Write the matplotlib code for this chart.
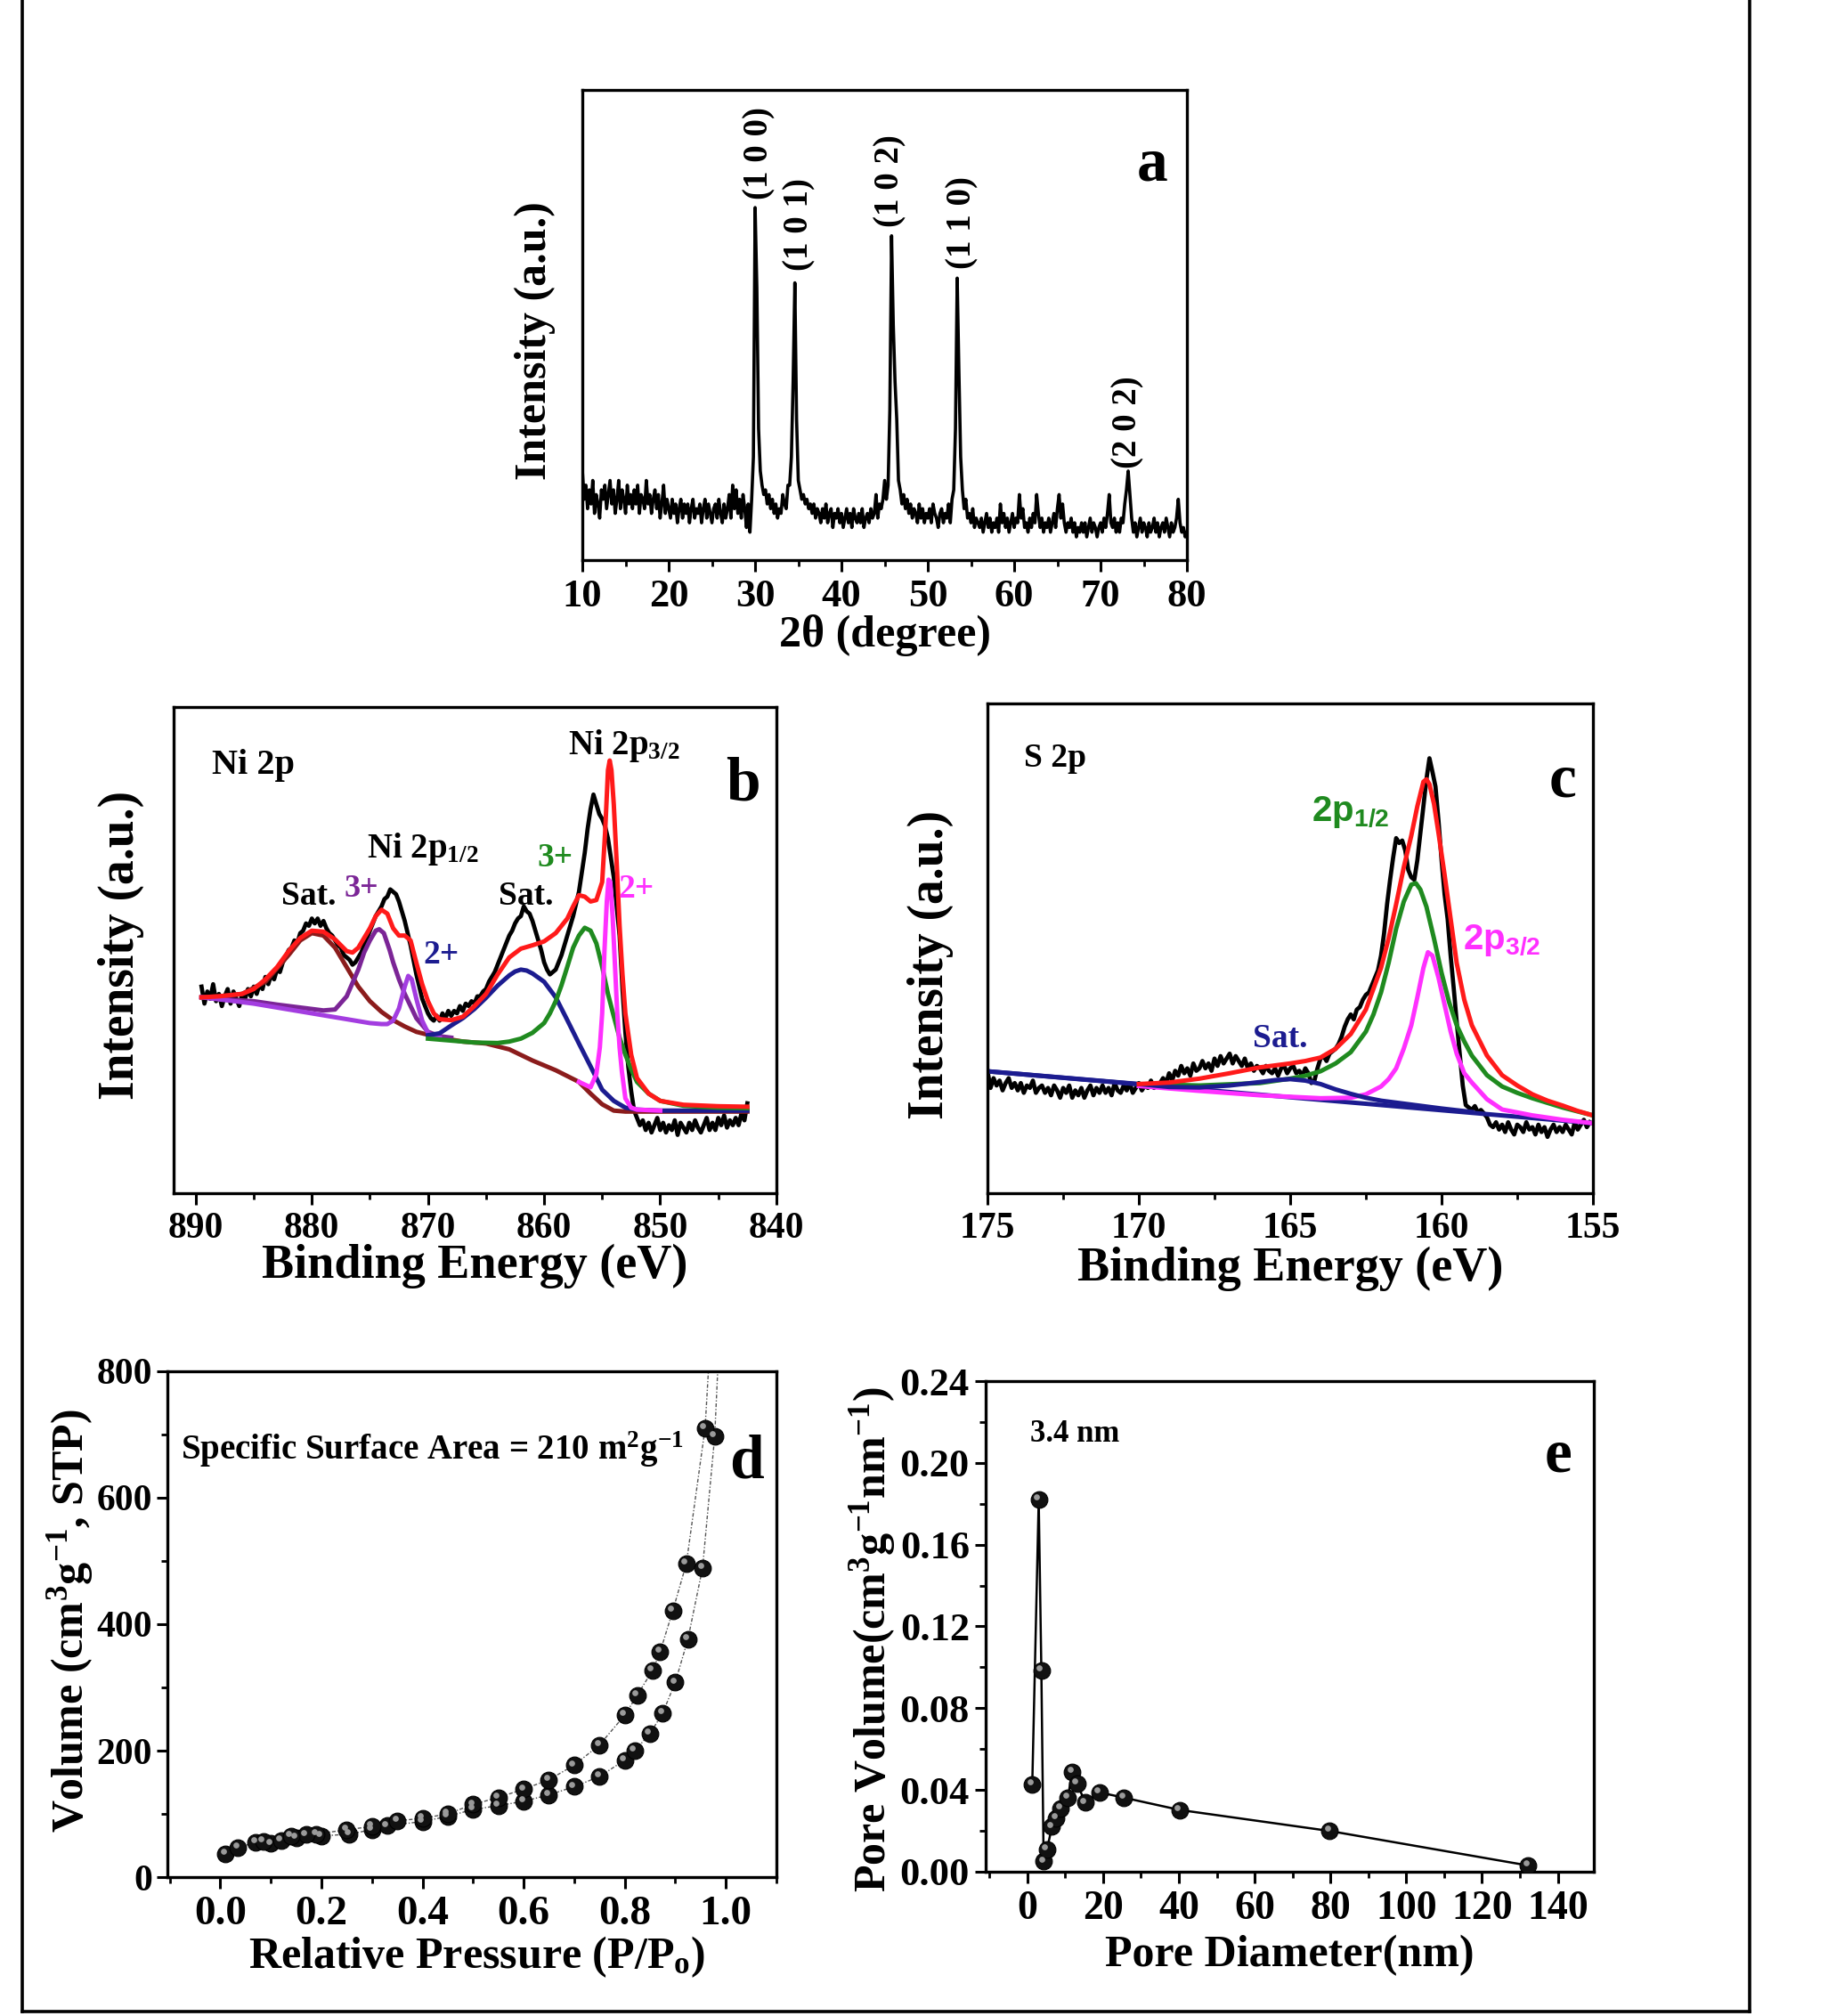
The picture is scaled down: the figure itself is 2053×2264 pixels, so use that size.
import numpy as np
import matplotlib.pyplot as plt
from matplotlib.lines import Line2D
from matplotlib.ticker import MultipleLocator, NullLocator
from matplotlib.transforms import offset_copy

plt.rcParams['font.family'] = ['Liberation Serif', 'DejaVu Serif']
plt.rcParams['font.weight'] = 'bold'
plt.rcParams['mathtext.fontset'] = 'custom'
plt.rcParams['mathtext.rm'] = 'Liberation Serif:bold'
plt.rcParams['mathtext.it'] = 'Liberation Serif:bold'
plt.rcParams['mathtext.bf'] = 'Liberation Serif:bold'
plt.rcParams['mathtext.sf'] = 'Liberation Sans:bold'
plt.rcParams['axes.linewidth'] = 2.4

# ---------------- (a) XRD ----------------
xrd_2theta = 10 + 0.2 * np.arange(351)
xrd_intensity = [
    19, 13, 16, 11, 15, 12, 17, 10, 14, 12,
    9, 15, 13, 16, 11, 14, 17, 12, 15, 10,
    13, 17, 11, 15, 13, 10, 16, 12, 14, 11,
    15, 12, 16, 10, 14, 13, 11, 17, 12, 14,
    10, 13, 15, 11, 14, 9, 12, 16, 10, 13,
    11, 9, 13, 10, 12, 8, 11, 13, 9, 12,
    10, 12, 8, 11, 13, 9, 11, 10, 12, 8,
    11, 13, 9, 12, 10, 8, 11, 12, 9, 13,
    10, 8, 12, 9, 11, 14, 9, 16, 11, 15,
    10, 13, 9, 14, 11, 7, 12, 6, 13, 22,
    75, 58, 28, 19, 16, 14, 15, 12, 14, 11,
    13, 10, 12, 9, 11, 10, 14, 12, 11, 16,
    16, 22, 38, 59, 30, 17, 15, 13, 14, 12,
    13, 11, 12, 10, 12, 9, 11, 10, 8, 11,
    9, 12, 8, 10, 11, 7, 10, 9, 11, 8,
    10, 7, 9, 11, 8, 10, 7, 11, 9, 8,
    10, 8, 11, 7, 9, 10, 8, 11, 9, 10,
    14, 9, 12, 11, 13, 17, 13, 16, 32, 69,
    50, 38, 30, 17, 15, 12, 14, 11, 13, 10,
    12, 9, 11, 10, 8, 12, 9, 11, 8, 10,
    9, 11, 8, 12, 10, 9, 7, 10, 11, 8,
    10, 9, 12, 8, 13, 15, 28, 60, 40, 22,
    15, 11, 13, 9, 10, 8, 11, 7, 9, 8,
    7, 9, 6, 8, 10, 7, 9, 6, 8, 7,
    9, 6, 12, 8, 10, 7, 9, 6, 8, 10,
    7, 9, 8, 14, 9, 11, 7, 8, 6, 9,
    7, 10, 8, 14, 10, 7, 9, 6, 8, 7,
    9, 6, 8, 10, 7, 11, 14, 9, 12, 8,
    6, 8, 7, 9, 6, 8, 5, 7, 6, 8,
    6, 8, 5, 7, 9, 6, 8, 7, 5, 7,
    8, 6, 9, 7, 10, 14, 8, 7, 9, 6,
    8, 6, 9, 8, 12, 15, 19, 14, 9, 6,
    8, 5, 7, 9, 6, 8, 7, 5, 8, 6,
    7, 9, 6, 8, 5, 7, 8, 6, 9, 7,
    5, 8, 6, 7, 9, 13, 8, 6, 7, 5,
    6]
xrd_peak_labels = ['(1 0 0)', '(1 0 1)', '(1 0 2)', '(1 1 0)', '(2 0 2)']
xrd_label_x = [30.5, 35.1, 45.7, 54.0, 73.2]
xrd_label_y = [86.6, 71.5, 80.7, 71.8, 29.4]

# ---------------- (b) Ni 2p ----------------
ni_be = 889.5 - 0.25 * np.arange(189)
ni_raw = [
    42.5, 39.0, 41.5, 40.0, 43.0, 39.5, 41.0, 38.5,
    40.5, 42.0, 39.0, 41.5, 40.0, 38.5, 41.0, 40.0,
    42.0, 40.5, 42.5, 41.0, 43.0, 42.0, 44.5, 43.0,
    45.0, 44.0, 46.0, 45.5, 47.5, 48.5, 50.0, 50.5,
    52.0, 51.5, 53.5, 54.0, 55.5, 55.0, 56.5, 55.5,
    56.5, 55.0, 56.0, 54.5, 53.5, 53.0, 52.0, 51.0,
    50.5, 49.0, 48.5, 48.0, 47.0, 47.5, 48.5, 49.5,
    51.0, 52.5, 54.0, 55.5, 57.0, 58.0, 59.0, 60.5,
    61.0, 62.5, 62.0, 61.5, 60.0, 58.0, 56.0, 53.5,
    51.0, 48.0, 45.0, 42.5, 40.0, 38.5, 37.0, 36.0,
    35.5, 36.5, 35.5, 37.0, 36.0, 37.5, 36.5, 37.5,
    37.0, 38.5, 37.5, 39.0, 38.5, 39.5, 39.0, 40.5,
    40.5, 41.5, 42.0, 43.5, 44.5, 45.5, 47.0, 48.5,
    50.0, 51.5, 53.0, 54.0, 55.5, 56.5, 57.0, 59.0,
    58.0, 57.5, 56.0, 54.0, 52.0, 50.0, 47.5, 46.0,
    45.0, 45.5, 46.0, 47.5, 49.0, 51.0, 53.0, 55.0,
    57.0, 59.5, 62.0, 66.0, 70.0, 75.0, 79.0, 82.0,
    80.0, 78.0, 77.0, 75.5, 73.0, 69.0, 65.0, 59.0,
    53.0, 42.0, 33.0, 26.0, 21.0, 17.0, 15.5, 14.0,
    15.0, 13.0, 14.5, 12.5, 14.0, 15.5, 13.0, 14.5,
    12.5, 14.0, 13.0, 15.0, 12.0, 14.5, 13.5, 12.5,
    14.5, 13.0, 15.0, 13.5, 12.5, 14.0, 15.5, 13.0,
    14.5, 13.0, 15.5, 14.0, 16.0, 13.5, 15.0, 14.0,
    15.5, 14.0, 16.5, 15.0, 18.5]

ni_env_x = [889.5, 888, 886, 885, 884, 883, 882, 881, 880, 879, 878, 877, 876.5,
            876, 875, 874.5, 874, 873.5, 873, 872.5, 872, 871.5, 871, 870.5, 870,
            869.5, 869, 868, 867, 866, 865, 864, 863, 862, 861, 860, 859, 858,
            857.5, 857, 856.5, 856, 855.5, 855, 854.75, 854.5, 854.35, 854.2, 854,
            853.75, 853.5, 853.25, 853, 852.5, 852, 851, 850, 848, 845, 842.5]
ni_env_y = [40.3, 40.5, 41.0, 42.0, 44.0, 46.5, 49.8, 52.5, 54.0, 53.8, 52.2, 49.8, 49.5,
            50.5, 54.5, 57.0, 58.3, 57.5, 54.5, 53.0, 53.0, 52.0, 47.4, 43.0, 39.5,
            37.0, 35.8, 35.6, 36.3, 38.5, 41.0, 45.0, 48.5, 50.3, 51.0, 51.8, 53.5, 56.5,
            59.0, 61.3, 61.0, 60.0, 60.3, 64.0, 74.0, 87.0, 89.0, 87.0, 80.0,
            68.0, 55.0, 45.0, 37.0, 28.5, 23.7, 20.5, 19.0, 18.2, 17.9, 17.8]

ni_bg_x = [889.5, 888, 886, 884, 882, 881, 880, 879, 878, 877, 876, 875, 874, 873,
           872, 871, 869, 867, 865, 863, 861, 859, 857, 856, 855, 854, 853, 848, 842.5]
ni_bg_y = [40.3, 40.5, 41.0, 43.5, 49.0, 52.0, 53.5, 53.0, 50.5, 46.5, 42.5, 39.5, 37.3, 35.6,
           34.3, 33.2, 32.0, 31.2, 30.8, 29.6, 27.3, 25.3, 22.9, 20.5, 18.3, 17.0, 16.8, 16.8, 16.8]

ni_3p_half_x = [889.5, 887, 885, 883, 881, 879, 878, 877, 876, 875.5, 875, 874.5, 874.2,
                873.8, 873.3, 873, 872.5, 872, 871, 870, 869, 868]
ni_3p_half_y = [40.3, 39.8, 39.5, 38.8, 38.2, 37.6, 37.8, 40.5, 46.0, 49.5, 52.0, 54.0, 54.3,
                53.5, 50.0, 47.5, 44.0, 41.0, 36.0, 33.2, 32.3, 32.0]

ni_2p_half_x = [889.5, 887, 885, 883, 881, 879, 877, 875, 874, 873.5, 873, 872.5, 872,
                871.7, 871.4, 871, 870.5, 870, 869.5, 869]
ni_2p_half_y = [40.3, 39.6, 39.0, 38.2, 37.4, 36.6, 35.8, 35.0, 34.8, 34.8, 35.5, 38.0, 42.5,
                44.7, 44.0, 40.0, 35.5, 33.0, 32.3, 32.0]

ni_sat2_x = [870, 869, 868, 867, 866, 865, 864, 863, 862.5, 862, 861.5, 861, 860, 859,
             858, 857, 856, 855, 854, 853, 852, 850, 845, 842.5]
ni_sat2_y = [32.5, 32.9, 34.5, 36.0, 37.9, 40.2, 42.7, 44.8, 45.6, 46.0, 45.8, 45.2, 43.5, 40.3,
             35.6, 30.8, 26.1, 21.3, 19.0, 17.6, 17.2, 17.0, 17.0, 17.0]

ni_3p_x = [870, 868, 866, 864, 863, 862, 861, 860, 859.5, 859, 858.5, 858, 857.5, 857,
           856.5, 856, 855.5, 855, 854.5, 854, 853.5, 853, 852.5, 852, 851, 850, 848, 845, 842.5]
ni_3p_y = [31.8, 31.4, 31.0, 30.9, 31.2, 31.8, 33.0, 35.0, 37.0, 39.5, 42.8, 46.6, 50.5, 53.0,
           54.6, 54.0, 51.4, 46.6, 41.0, 36.4, 32.0, 28.5, 25.5, 22.9, 20.5, 19.0, 18.0, 17.6, 17.5]

ni_2p_x = [857, 856, 855.5, 855.2, 855, 854.8, 854.6, 854.45, 854.3, 854.1, 853.9, 853.7,
           853.5, 853.3, 853, 852.5, 852, 850]
ni_2p_y = [22.9, 21.8, 24.5, 30.0, 37.0, 50.0, 60.0, 64.5, 64.0, 57.0, 47.0, 37.0,
           30.0, 25.0, 19.5, 17.6, 17.2, 17.0]

# ---------------- (c) S 2p ----------------
s_be = 175.0 - 0.1 * np.arange(200)
s_raw = [
    25.0, 21.5, 23.5, 22.0, 23.0, 21.0, 22.5, 23.5, 21.5, 22.5,
    21.0, 22.5, 20.5, 22.0, 21.5, 23.0, 20.5, 21.5, 22.0, 20.5,
    21.5, 20.0, 22.0, 21.0, 19.5, 21.5, 20.5, 22.0, 19.5, 21.0,
    20.0, 21.5, 19.5, 21.0, 22.0, 20.0, 21.5, 20.5, 22.0, 20.5,
    21.5, 20.0, 22.5, 21.0, 20.5, 22.0, 21.0, 22.5, 20.5, 21.5,
    22.5, 21.0, 22.0, 21.5, 23.0, 21.5, 22.0, 22.5, 23.5, 22.5,
    24.5, 23.0, 25.0, 24.0, 26.0, 24.5, 25.5, 24.0, 26.5, 25.0,
    25.5, 27.0, 25.5, 26.5, 25.0, 27.5, 26.0, 28.0, 26.5, 27.5,
    28.5, 26.5, 28.0, 27.0, 26.0, 27.5, 25.5, 26.5, 25.0, 26.0,
    25.5, 24.5, 26.0, 25.0, 24.5, 25.5, 24.0, 25.5, 26.0, 24.5,
    25.5, 26.0, 24.5, 25.0, 24.0, 25.5, 24.5, 22.5, 23.0, 25.5,
    27.5, 28.0, 27.0, 28.5, 29.0, 29.5, 30.5, 32.0, 34.0, 35.5,
    36.5, 35.5, 37.5, 38.0, 39.5, 40.5, 41.0, 42.5, 44.0, 45.5,
    48.5, 53.0, 59.0, 64.0, 68.5, 72.5, 71.5, 72.0, 70.0, 66.0,
    64.5, 64.0, 68.0, 73.5, 79.0, 84.5, 88.8, 86.0, 83.0, 76.0,
    68.0, 61.0, 56.0, 48.5, 42.0, 35.0, 28.5, 22.0, 18.0, 17.5,
    17.0, 17.8, 16.5, 17.0, 16.3, 15.5, 14.0, 13.5, 14.5, 13.0,
    14.0, 12.5, 14.5, 13.0, 12.0, 14.0, 13.5, 12.5, 14.5, 13.0,
    13.5, 12.0, 14.0, 12.5, 13.5, 11.5, 13.0, 14.0, 12.5, 13.5,
    12.5, 14.0, 13.0, 12.0, 14.5, 13.0, 14.0, 15.0, 13.5, 14.5]

s_env_x = [170, 169, 168, 167, 166, 165, 164.5, 164, 163.5, 163, 162.5, 162, 161.75, 161.5,
           161.25, 161, 160.8, 160.6, 160.5, 160.4, 160.25, 160.1, 159.9, 159.7, 159.5,
           159.25, 159, 158.5, 158, 157.5, 157, 156.5, 156, 155.5, 155]
s_env_y = [22.3, 22.6, 23.4, 24.5, 25.7, 26.5, 27.0, 27.7, 29.5, 32.5, 37.5, 46.0, 52.0, 59.0,
           66.5, 73.0, 79.0, 84.0, 84.5, 83.5, 79.5, 73.5, 65.0, 56.0, 47.0,
           39.5, 34.3, 28.1, 24.1, 22.0, 20.2, 18.9, 17.9, 16.8, 15.9]

s_base_x = [175, 155]
s_base_y = [24.9, 14.3]

s_sat_x = [175, 170, 169, 168, 167, 166, 165.5, 165, 164.5, 164, 163.5, 163, 162.5, 162,
           161, 160, 159]
s_sat_y = [24.9, 22.3, 21.7, 21.6, 22.0, 22.7, 23.1, 23.3, 23.0, 22.3, 21.2, 20.3, 19.5, 18.9,
           18.1, 17.3, 16.6]

s_half_x = [170, 168, 166, 165, 164.5, 164, 163.5, 163, 162.5, 162.25, 162, 161.75, 161.5,
            161.25, 161, 160.85, 160.7, 160.5, 160.25, 160, 159.75, 159.5, 159.25, 159,
            158.5, 158, 157.5, 157, 156, 155]
s_half_y = [22.3, 22.0, 22.5, 23.4, 24.0, 24.9, 26.5, 28.8, 33.0, 36.5, 41.0, 47.0, 54.0,
            59.5, 63.0, 63.3, 62.0, 58.5, 52.0, 45.0, 39.0, 34.3, 31.0, 28.1,
            24.1, 21.8, 20.5, 19.4, 17.5, 15.9]

s_3half_x = [170, 168, 166, 165, 164, 163, 162.5, 162, 161.75, 161.5, 161.25, 161, 160.8,
             160.6, 160.45, 160.3, 160.1, 159.9, 159.7, 159.5, 159.25, 159, 158.5, 158,
             157, 156, 155]
s_3half_y = [21.9, 20.9, 20.0, 19.7, 19.4, 19.5, 20.2, 21.8, 23.3, 25.5, 29.5, 34.3, 40.0,
             46.0, 49.2, 48.5, 44.0, 38.5, 33.0, 28.5, 24.5, 22.6, 19.2, 17.1,
             15.9, 15.0, 14.3]

# ---------------- (d) N2 isotherm ----------------
ads_p = [0.01, 0.035, 0.07, 0.10, 0.12, 0.15, 0.20, 0.255, 0.30, 0.33, 0.40, 0.45, 0.50,
         0.55, 0.60, 0.65, 0.70, 0.75, 0.80, 0.82, 0.85, 0.875, 0.90, 0.925, 0.954, 0.978, 0.99]
ads_v = [37, 47, 55, 53, 58, 62, 65, 68, 75, 81, 88, 96, 107,
         113, 120, 130, 143, 159, 185, 200, 227, 259, 308, 376, 489, 697, 905]
des_p = [0.975, 0.959, 0.922, 0.895, 0.87, 0.855, 0.825, 0.80, 0.75, 0.70, 0.65, 0.60, 0.55,
         0.50, 0.45, 0.40, 0.35, 0.30, 0.25, 0.19, 0.17, 0.14, 0.085]
des_v = [930, 710, 496, 421, 356, 327, 288, 256, 209, 177, 154, 139, 126,
         115, 100, 93, 89, 80, 75, 68, 67, 65, 56]

# ---------------- (e) pore size distribution ----------------
pore_d = [1.3, 3.0, 3.7, 4.3, 5.2, 6.5, 7.6, 8.8, 10.7, 11.8, 13.1, 15.3, 19.0, 25.5,
          40.2, 79.8, 132.2]
pore_v = [0.0428, 0.182, 0.0985, 0.005, 0.011, 0.022, 0.026, 0.031, 0.036, 0.0488, 0.0432,
          0.0338, 0.0388, 0.0362, 0.0302, 0.0199, 0.003]

fig = plt.figure(figsize=(20.53, 22.64), dpi=100)

ax_a = fig.add_axes([0.3186, 0.7220, 0.3307, 0.2334])
ax_b = fig.add_axes([0.0950, 0.4081, 0.3297, 0.2412])
ax_c = fig.add_axes([0.5402, 0.4081, 0.3312, 0.2430])
ax_d = fig.add_axes([0.0915, 0.0689, 0.3332, 0.2509])
ax_e = fig.add_axes([0.5392, 0.0716, 0.3327, 0.2433])


def style(ax, xsize, ysize, major, minor, yticks=True, xpad=6, ypad=6):
    ax.xaxis.set_major_locator(MultipleLocator(major[0]))
    ax.xaxis.set_minor_locator(MultipleLocator(minor[0]))
    if yticks:
        ax.yaxis.set_major_locator(MultipleLocator(major[1]))
        ax.yaxis.set_minor_locator(MultipleLocator(minor[1]))
    else:
        ax.yaxis.set_major_locator(NullLocator())
        ax.yaxis.set_minor_locator(NullLocator())
    ax.tick_params(which='major', direction='out', length=9, width=2.2)
    ax.tick_params(which='minor', direction='out', length=5, width=2.0)
    ax.tick_params(axis='x', labelsize=xsize, pad=xpad)
    ax.tick_params(axis='y', labelsize=ysize, pad=ypad)
    ax.tick_params(top=False, right=False)
    for lab in ax.get_xticklabels() + ax.get_yticklabels():
        lab.set_fontweight('bold')


# (a)
ax_a.plot(xrd_2theta, xrd_intensity, color='black', lw=2.6)
ax_a.set_xlim(10, 80)
ax_a.set_ylim(0, 100)
style(ax_a, 32, 32, (10, 1), (5, 1), yticks=False)
ax_a.set_xlabel('2θ (degree)', fontsize=36, fontweight='bold')
ax_a.xaxis.set_label_coords(0.5, -0.115)
ax_a.set_ylabel('Intensity (a.u.)', fontsize=36, fontweight='bold')
ax_a.yaxis.set_label_coords(-0.044, 0.467)
for t, x, y in zip(xrd_peak_labels, xrd_label_x, xrd_label_y):
    ax_a.text(x, y, t, rotation=90, ha='center', va='center', fontsize=28,
              fontweight='bold')
ax_a.text(76, 84, 'a', ha='center', va='center', fontsize=50, fontweight='bold')

# (b)
ax_b.plot(ni_be, ni_raw, color='black', lw=3.4)
ax_b.plot(ni_bg_x, ni_bg_y, color='#8b1c1c', lw=3.6)
ax_b.plot(ni_3p_half_x, ni_3p_half_y, color='#7b2596', lw=3.6)
ax_b.plot(ni_2p_half_x, ni_2p_half_y, color='#a33de0', lw=3.6)
ax_b.plot(ni_sat2_x, ni_sat2_y, color='#1c1c90', lw=3.6)
ax_b.plot(ni_3p_x, ni_3p_y, color='#1f8a1f', lw=3.6)
ax_b.plot(ni_2p_x, ni_2p_y, color='#ff30ff', lw=3.6)
ax_b.plot(ni_env_x, ni_env_y, color='#ff1a1a', lw=3.6)
ax_b.set_xlim(891.9, 840)
ax_b.set_ylim(0, 100)
style(ax_b, 30, 30, (10, 1), (5, 1), yticks=False)
ax_b.set_xlabel('Binding Energy (eV)', fontsize=39, fontweight='bold')
ax_b.xaxis.set_label_coords(0.5, -0.103)
ax_b.set_ylabel('Intensity (a.u.)', fontsize=40, fontweight='bold')
ax_b.yaxis.set_label_coords(-0.049, 0.51)
ax_b.text(888.6, 88, 'Ni 2p', fontsize=29, va='center', ha='left', fontweight='bold')
ax_b.text(857.9, 92, 'Ni 2p$_{3/2}$', fontsize=28, va='center', ha='left', fontweight='bold')
ax_b.text(875.3, 70.8, 'Ni 2p$_{1/2}$', fontsize=28, va='center', ha='left', fontweight='bold')
ax_b.text(882.6, 61, 'Sat.', fontsize=27, va='center', ha='left', fontweight='bold')
ax_b.text(877.2, 62.5, '3+', fontsize=26, va='center', ha='left', fontweight='bold',
          color='#7b2596')
ax_b.text(870.4, 49, '2+', fontsize=27, va='center', ha='left', fontweight='bold',
          color='#1c1c90')
ax_b.text(863.9, 61, 'Sat.', fontsize=27, va='center', ha='left', fontweight='bold')
ax_b.text(860.6, 69, '3+', fontsize=27, va='center', ha='left', fontweight='bold',
          color='#1f8a1f')
ax_b.text(853.6, 62.5, '2+', fontsize=27, va='center', ha='left', fontweight='bold',
          color='#ff30ff')
ax_b.text(842.9, 84, 'b', fontsize=50, va='center', ha='center', fontweight='bold')

# (c)
ax_c.plot(s_be, s_raw, color='black', lw=3.4)
ax_c.plot(s_base_x, s_base_y, color='#1c1c90', lw=3.6)
ax_c.plot(s_3half_x, s_3half_y, color='#ff30ff', lw=3.6)
ax_c.plot(s_half_x, s_half_y, color='#1f8a1f', lw=3.6)
ax_c.plot(s_sat_x, s_sat_y, color='#1c1c90', lw=3.6)
ax_c.plot(s_env_x, s_env_y, color='#ff1a1a', lw=3.6)
ax_c.set_xlim(175, 155)
ax_c.set_ylim(0, 100)
style(ax_c, 30, 30, (5, 1), (2.5, 1), yticks=False)
ax_c.set_xlabel('Binding Energy (eV)', fontsize=39, fontweight='bold')
ax_c.xaxis.set_label_coords(0.5, -0.108)
ax_c.set_ylabel('Intensity (a.u.)', fontsize=40, fontweight='bold')
ax_c.yaxis.set_label_coords(-0.056, 0.467)
ax_c.text(173.8, 88.8, 'S 2p', fontsize=27, va='center', ha='left', fontweight='bold')
ax_c.text(164.3, 77.8, r'$\mathsf{2p_{1/2}}$', fontsize=29, va='center', ha='left',
          color='#1f8a1f')
ax_c.text(159.3, 51.6, r'$\mathsf{2p_{3/2}}$', fontsize=29, va='center', ha='left',
          color='#ff30ff')
ax_c.text(166.25, 31.6, 'Sat.', fontsize=27, va='center', ha='left', fontweight='bold',
          color='#1c1c90')
ax_c.text(156.0, 84, 'c', fontsize=50, va='center', ha='center', fontweight='bold')


def balls(ax, x, y, ms):
    ax.plot(x, y, 'o', ms=ms, mfc='#111111', mec='black', mew=0.8, zorder=3,
            clip_on=True)
    tr = offset_copy(ax.transData, fig=fig, x=-1.8, y=2.0, units='points')
    ax.plot(x, y, 'o', ms=ms * 0.36, mfc='#9a9a9a', mec='none', transform=tr,
            zorder=4)


# (d)
ax_d.plot(ads_p, ads_v, color='#555555', lw=1.0, ls=(0, (3, 1.5, 1, 1.5)), zorder=2)
ax_d.plot(des_p, des_v, color='#555555', lw=1.0, ls=(0, (3, 1.5, 1, 1.5)), zorder=2)
balls(ax_d, ads_p, ads_v, 13.5)
balls(ax_d, des_p, des_v, 13.5)
ax_d.set_xlim(-0.105, 1.1)
ax_d.set_ylim(0, 800)
style(ax_d, 34, 30, (0.2, 200), (0.1, 100), ypad=3)
ax_d.set_xlabel('Relative Pressure (P/P$_\\mathrm{o}$)', fontsize=36, fontweight='bold')
ax_d.xaxis.set_label_coords(0.508, -0.114)
ax_d.set_ylabel('Volume (cm$^3$g$^{-1}$, STP)', fontsize=36, fontweight='bold')
ax_d.yaxis.set_label_coords(-0.118, 0.507)
ax_d.text(-0.078, 677, 'Specific Surface Area = 210 m$^2$g$^{-1}$', fontsize=28,
          va='center', ha='left', fontweight='bold')
ax_d.text(1.042, 655, 'd', fontsize=50, va='center', ha='center', fontweight='bold')

# (e)
ax_e.plot(pore_d, pore_v, color='black', lw=1.8, zorder=2)
balls(ax_e, pore_d, pore_v, 13.5)
ax_e.set_xlim(-11, 149.5)
ax_e.set_ylim(0, 0.24)
style(ax_e, 33, 32, (20, 0.04), (10, 0.02), ypad=4)
ax_e.yaxis.set_major_formatter(plt.FuncFormatter(lambda v, p: '%.2f' % v))
ax_e.set_xlabel('Pore Diameter(nm)', fontsize=36, fontweight='bold')
ax_e.xaxis.set_label_coords(0.5, -0.129)
ax_e.set_ylabel('Pore Volume(cm$^3$g$^{-1}$nm$^{-1}$)', fontsize=36, fontweight='bold')
ax_e.yaxis.set_label_coords(-0.145, 0.474)
ax_e.text(0.65, 0.214, '3.4 nm', fontsize=25, va='center', ha='left', fontweight='bold')
ax_e.text(140, 0.203, 'e', fontsize=50, va='center', ha='center', fontweight='bold')

# outer frame (open at the top)
fx0, fx1, fy0 = 25 / 2053, 1965 / 2053, 5 / 2264
fig.add_artist(Line2D([fx0, fx0], [fy0, 1.0], color='black', lw=2.6))
fig.add_artist(Line2D([fx1, fx1], [fy0, 1.0], color='black', lw=2.6))
fig.add_artist(Line2D([fx0, fx1], [fy0, fy0], color='black', lw=2.6))

fig.savefig('out.png', dpi=100)
